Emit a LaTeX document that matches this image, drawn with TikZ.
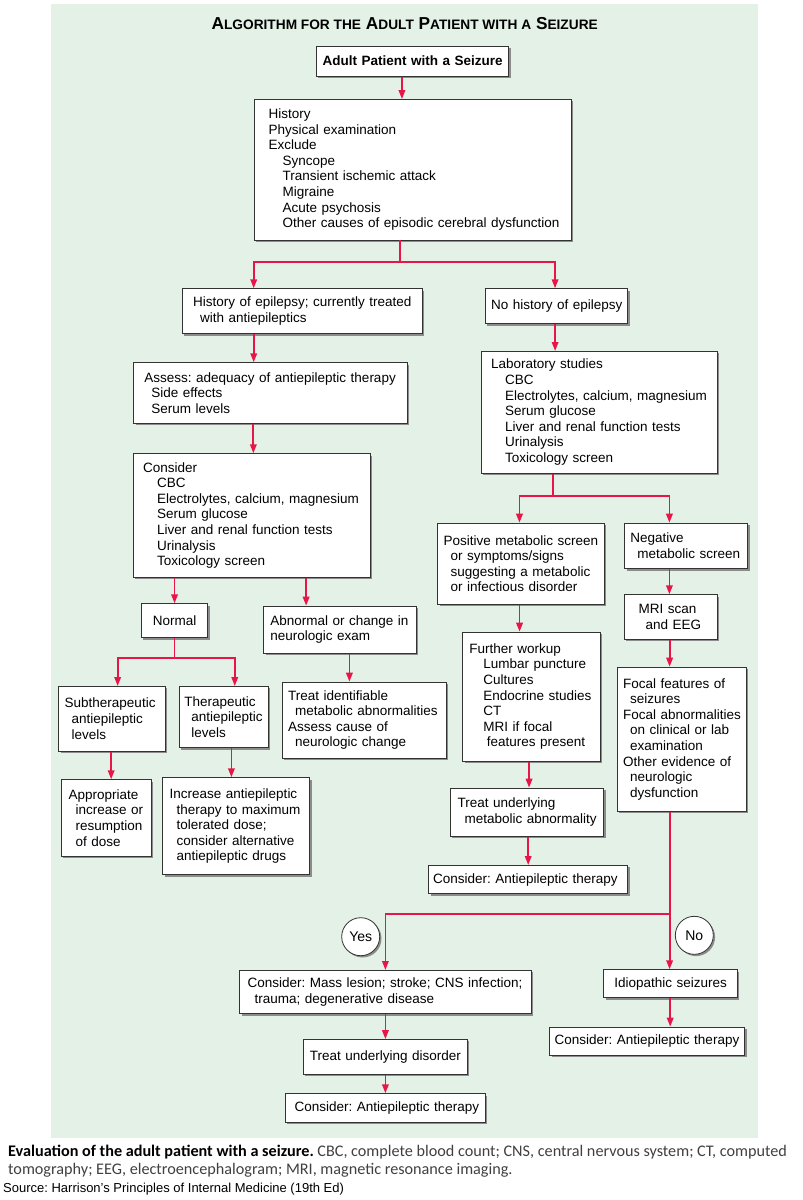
\documentclass[tikz,border=0pt]{standalone}
\usepackage{fontspec}
\setmainfont{Liberation Sans}
\newfontfamily\capfont{Carlito}
\usetikzlibrary{positioning}
\usetikzlibrary{shadows}
\usetikzlibrary{arrows.meta}

\definecolor{panelgreen}{RGB}{228,241,230}
\definecolor{linkred}{RGB}{232,22,72}
\newcommand{\smcap}[1]{{\fontsize{13.7}{14}\selectfont #1}}
\newcommand{\indA}{\hspace*{7pt}}
\newcommand{\indB}{\hspace*{14pt}}
\frenchspacing

\begin{document}
\begin{tikzpicture}[x=1pt, y=-1pt,
        >={Triangle[length=9pt,width=6.5pt]},
        box/.style = {draw=black!80, line width=0.8pt, fill=white,
            anchor=north west, align=left, inner xsep=0pt, inner ysep=0pt,
            font=\fontsize{13.5}{15.6}\selectfont,
            drop shadow={shadow xshift=1.8pt, shadow yshift=-1.8pt,
                fill=black!45, opacity=1}},
        lskip/.style = {execute at begin node={\leftskip=#1}},
        answer/.style = {circle, draw=black!80, line width=0.8pt, fill=white,
            minimum size=38pt, inner sep=0pt, font=\fontsize{14}{15}\selectfont,
            drop shadow={shadow xshift=1.8pt, shadow yshift=-1.8pt,
                fill=black!45, opacity=1}},
        link/.style = {color=linkred, line width=1.8pt}]
    \useasboundingbox (0,0) rectangle (803,1200);
    \fill[panelgreen] (50.7,4) rectangle (757.7,1138);

    \node[anchor=base, font=\bfseries\fontsize{17.3}{18}\selectfont] (title) at (404.7,29.3)
        {A\smcap{LGORITHM FOR THE} A\smcap{DULT} P\smcap{ATIENT WITH A} S\smcap{EIZURE}};

    \node[box, align=center, text width=192.3pt, minimum height=30pt,
        font=\bfseries\fontsize{13.5}{15.6}\selectfont] (top) at (316,45.7)
        {Adult Patient with a Seizure};
    \node[box, below=22.6pt of top, text width=316.7pt, minimum height=140.4pt, lskip=14.4pt] (hist)
        {History\\ Physical examination\\ Exclude\\ \indB Syncope\\ \indB Transient ischemic attack\\
        \indB Migraine\\ \indB Acute psychosis\\ \indB Other causes of episodic cerebral dysfunction};

    % treated patients
    \node[box, text width=240pt, minimum height=45pt, lskip=11pt] (hxepi) at (181.7,288.3)
        {History of epilepsy; currently treated\\ \indA with antiepileptics};
    \node[box, text width=273.4pt, minimum height=60.4pt, lskip=10.7pt] (assess) at (133.3,362.3)
        {Assess: adequacy of antiepileptic therapy\\ \indA Side effects\\ \indA Serum levels};
    \node[box, text width=237.3pt, minimum height=123.4pt, lskip=10pt] (consid) at (132.7,453.3)
        {Consider\\ \indB CBC\\ \indB Electrolytes, calcium, magnesium\\ \indB Serum glucose\\
        \indB Liver and renal function tests\\ \indB Urinalysis\\ \indB Toxicology screen};
    \node[box, align=center, text width=66.3pt, minimum height=34pt] (normal) at (141,603.3) {Normal};
    \node[box, text width=152.4pt, minimum height=47pt, lskip=6.7pt] (abnorm) at (263.3,605.7)
        {Abnormal or change in\\ neurologic exam};
    \node[box, text width=106.7pt, minimum height=64.7pt, lskip=6pt] (sub) at (58.3,686)
        {Subtherapeutic\\ \indA antiepileptic\\ \indA levels};
    \node[box, text width=88.7pt, minimum height=61.3pt, lskip=5pt] (ther) at (179,686)
        {Therapeutic\\ \indA antiepileptic\\ \indA levels};
    \node[box, text width=90.3pt, minimum height=76.4pt, lskip=7.6pt] (approp) at (60.7,779.3)
        {Appropriate\\ \indA increase or\\ \indA resumption\\ \indA of dose};
    \node[box, text width=147pt, minimum height=97pt, lskip=7pt] (incr) at (162.3,777.3)
        {Increase antiepileptic\\ \indA therapy to maximum\\ \indA tolerated dose;\\
        \indA consider alternative\\ \indA antiepileptic drugs};
    \node[box, text width=164pt, minimum height=76pt, lskip=6pt] (treatid) at (281.7,681.7)
        {Treat identifiable\\ \indA metabolic abnormalities\\ Assess cause of\\ \indA neurologic change};

    % untreated patients
    \node[box, text width=142.3pt, minimum height=35pt, lskip=5.7pt] (nohx) at (485,288.3)
        {No history of epilepsy};
    \node[box, text width=236pt, minimum height=121.7pt, lskip=10pt] (lab) at (480.7,351)
        {Laboratory studies\\ \indB CBC\\ \indB Electrolytes, calcium, magnesium\\ \indB Serum glucose\\
        \indB Liver and renal function tests\\ \indB Urinalysis\\ \indB Toxicology screen};
    \node[box, text width=166.7pt, minimum height=81.3pt, lskip=6pt] (posit) at (437.3,522.7)
        {Positive metabolic screen\\ \indA or symptoms/signs\\ \indA suggesting a metabolic\\
        \indA or infectious disorder};
    \node[box, text width=123pt, minimum height=45.6pt, lskip=5.7pt] (negat) at (624.3,522.7)
        {Negative\\ \indA metabolic screen};
    \node[box, text width=137.7pt, minimum height=129pt, lskip=6.7pt] (further) at (462.3,631.7)
        {Further workup\\ \indB Lumbar puncture\\ \indB Cultures\\ \indB Endocrine studies\\ \indB CT\\
        \indB MRI if focal\\ \indB\hspace*{3.4pt}features present};
    \node[box, text width=93pt, minimum height=44.7pt, lskip=14.6pt] (mri) at (623.7,594.3)
        {MRI scan\\ \indA and EEG};
    \node[box, text width=129pt, minimum height=144.3pt, lskip=6pt] (focal) at (616.7,666.7)
        {Focal features of\\ \indA seizures\\ Focal abnormalities\\ \indA on clinical or lab\\
        \indA examination\\ Other evidence of\\ \indA neurologic\\ \indA dysfunction};
    \node[box, text width=153.3pt, minimum height=48pt, lskip=7.3pt] (treatmet) at (450,787.7)
        {Treat underlying\\ \indA metabolic abnormality};
    \node[box, text width=199pt, minimum height=28.3pt, lskip=4.4pt] (considm) at (428.3,865)
        {Consider: Antiepileptic therapy};

    % yes / no
    \node[answer] (yes) at (360.7,936.7) {Yes};
    \node[answer] (no) at (694.3,935.3) {No};
    \node[box, text width=291.4pt, minimum height=43.3pt, lskip=8pt] (mass) at (239.3,970)
        {Consider: Mass lesion; stroke; CNS infection;\\ \indA trauma; degenerative disease};
    \node[box, align=center, below=25pt of mass, text width=164pt, minimum height=35pt] (treatdis)
        {Treat underlying disorder};
    \node[box, below=18.4pt of treatdis, text width=200.3pt, minimum height=28.3pt, lskip=9.3pt] (considl)
        {Consider: Antiepileptic therapy};
    \node[box, text width=133.4pt, minimum height=28pt, lskip=10.7pt] (idio) at (603.3,969.3)
        {Idiopathic seizures};
    \node[box, text width=195pt, minimum height=28.3pt, lskip=5pt] (considr) at (549.3,1026.7)
        {Consider: Antiepileptic therapy};

    % connectors
    \path[link,->]
        ([xshift=-10.6pt]hist.north |- top.south) edge ([xshift=-10.6pt]hist.north)
        ([xshift=-16.7pt]assess.north |- hxepi.south) edge ([xshift=-16.7pt]assess.north)
        ([xshift=1.6pt]consid.north |- assess.south) edge ([xshift=1.6pt]consid.north)
        (normal.north |- consid.south) edge (normal.north)
        ([xshift=-33.8pt]abnorm.north |- consid.south) edge ([xshift=-33.8pt]abnorm.north)
        ([xshift=4.9pt]approp.north |- sub.south) edge ([xshift=4.9pt]approp.north)
        ([xshift=-4.8pt]incr.north |- ther.south) edge ([xshift=-4.8pt]incr.north)
        ([xshift=-14.7pt]treatid.north |- abnorm.south) edge ([xshift=-14.7pt]treatid.north)
        ([xshift=-44pt]lab.north |- nohx.south) edge ([xshift=-44pt]lab.north)
        ([xshift=-12pt]further.north |- posit.south) edge ([xshift=-12pt]further.north)
        ([xshift=2pt]treatmet.north |- further.south) edge ([xshift=2pt]treatmet.north)
        (considm.north |- treatmet.south) edge (considm.north)
        ([xshift=-1.2pt]mri.north |- negat.south) edge ([xshift=-1.2pt]mri.north)
        ([xshift=-12pt]focal.north |- mri.south) edge ([xshift=-12pt]focal.north)
        (treatdis.north |- mass.south) edge (treatdis.north)
        (considl.north |- treatdis.south) edge (considl.north)
        ([xshift=23pt]considr.north |- idio.south) edge ([xshift=23pt]considr.north);

    \draw[link] ([xshift=-12.6pt]hist.south) -- ++(0,22) coordinate (hsplit);
    \draw[link,->] (hsplit) -| ([xshift=-48.4pt]hxepi.north);
    \draw[link,->] (hsplit) -| ([xshift=-1.5pt]nohx.north);
    \draw[link] (normal.south) -- ++(0,20) coordinate (nsplit);
    \draw[link,->] (nsplit) -| ([xshift=5.6pt]sub.north);
    \draw[link,->] (nsplit) -| ([xshift=11pt]ther.north);
    \draw[link] ([xshift=-46pt]lab.south) -- ++(0,22.3) coordinate (lsplit);
    \draw[link,->] (lsplit) -| ([xshift=-1.6pt]posit.north);
    \draw[link,->] (lsplit) -| ([xshift=-16.8pt]negat.north);
    \coordinate (fsplit) at ([xshift=-12pt, yshift=-102.3pt]focal.south);
    \draw[link] ([xshift=-12pt]focal.south) -- (fsplit);
    \draw[link,->] (fsplit) -| (mass.north);
    \draw[link,->] (fsplit) -- (fsplit |- idio.north);

    % caption
    \node[anchor=base west, align=left, inner sep=0pt, font=\capfont\fontsize{16.2}{18}\selectfont] (caption) at (8,1174)
        {\textbf{Evaluation of the adult patient with a seizure.} \textcolor{black!75}{CBC, complete blood count; CNS, central nervous system; CT, computed}\\
        \textcolor{black!75}{tomography; EEG, electroencephalogram; MRI, magnetic resonance imaging.}};
    \node[anchor=base west, inner sep=0pt, font=\fontsize{13}{15}\selectfont] (source) at (3,1192)
        {Source: Harrison's Principles of Internal Medicine (19th Ed)};
\end{tikzpicture}
\end{document}
